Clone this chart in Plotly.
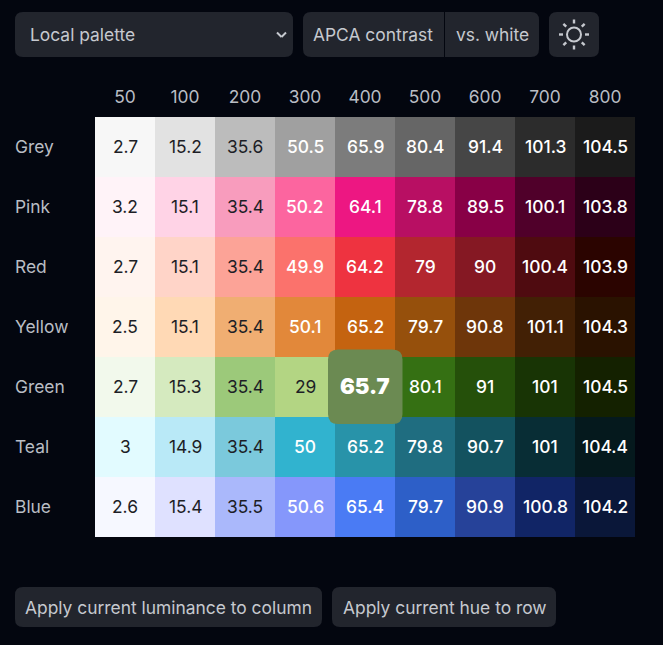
import math
import plotly.graph_objects as go

W, H = 663, 645

columns = ["50", "100", "200", "300", "400", "500", "600", "700", "800"]
hues = ["Grey", "Pink", "Red", "Yellow", "Green", "Teal", "Blue"]

# contrast values
grey = [2.7, 15.2, 35.6, 50.5, 65.9, 80.4, 91.4, 101.3, 104.5]
pink = [3.2, 15.1, 35.4, 50.2, 64.1, 78.8, 89.5, 100.1, 103.8]
red = [2.7, 15.1, 35.4, 49.9, 64.2, 79, 90, 100.4, 103.9]
yellow = [2.5, 15.1, 35.4, 50.1, 65.2, 79.7, 90.8, 101.1, 104.3]
green = [2.7, 15.3, 35.4, 29, 65.7, 80.1, 91, 101, 104.5]
teal = [3, 14.9, 35.4, 50, 65.2, 79.8, 90.7, 101, 104.4]
blue = [2.6, 15.4, 35.5, 50.6, 65.4, 79.7, 90.9, 100.8, 104.2]
values = [grey, pink, red, yellow, green, teal, blue]

grey_c = ["#f7f7f7", "#e2e2e2", "#bcbcbc", "#a0a0a0", "#7c7c7c", "#666666", "#464646", "#2c2c2c", "#1b1b1b"]
pink_c = ["#fff3f8", "#ffd3e6", "#f89cbd", "#fc659f", "#ed1782", "#b80f63", "#880046", "#50002a", "#2c0018"]
red_c = ["#fff4ef", "#ffd4c8", "#fca397", "#fb726c", "#ee3340", "#b3262f", "#851823", "#4f0b10", "#2b0400"]
yellow_c = ["#fff5ea", "#ffd9b5", "#f0ae72", "#e2883a", "#c46310", "#96500c", "#6e360a", "#422005", "#2a1200"]
green_c = ["#f2f9ec", "#d5eabf", "#9cc97a", "#b3d583", "#6b8a52", "#357013", "#25500a", "#183405", "#142100"]
teal_c = ["#e2fbff", "#b9e9f7", "#7bc9dc", "#31b3cf", "#2893a9", "#1f6d80", "#13525f", "#082d35", "#05191d"]
blue_c = ["#f6f8ff", "#dfe1ff", "#aab8fb", "#8597fb", "#4a7bf4", "#2d5fc8", "#264299", "#112566", "#0a1739"]
palette = [grey_c, pink_c, red_c, yellow_c, green_c, teal_c, blue_c]

BG = "#03060f"
PANEL = "#22252d"
LABEL = "#b9bdc4"
BTN_TEXT = "#c6c9cf"
DARK = "#1d1e26"
LIGHT = "#ffffff"
FONT = "Inter"
TEXT_SIZE = 17.4


def px_x(x):
    return x / W


def px_y(y):
    return 1 - y / H


def rounded(x0, y0, x1, y1, r=8):
    # rounded box, coordinates in window pixels
    xa, xb, ya, yb = px_x(x0), px_x(x1), px_y(y0), px_y(y1)
    rx, ry = r / W, r / H
    return (f"M {xa + rx} {ya} L {xb - rx} {ya} Q {xb} {ya} {xb} {ya - ry} "
            f"L {xb} {yb + ry} Q {xb} {yb} {xb - rx} {yb} "
            f"L {xa + rx} {yb} Q {xa} {yb} {xa} {yb + ry} "
            f"L {xa} {ya - ry} Q {xa} {ya} {xa + rx} {ya} Z")


def box(x0, y0, x1, y1, color, r=8):
    return dict(type="path", xref="paper", yref="paper", path=rounded(x0, y0, x1, y1, r),
                fillcolor=color, line_width=0, layer="above")


def stroke(x0, y0, x1, y1, color, width=2):
    return dict(type="line", xref="paper", yref="paper", x0=px_x(x0), y0=px_y(y0),
                x1=px_x(x1), y1=px_y(y1), line=dict(color=color, width=width), layer="above")


def label(x, y, text, color=BTN_TEXT, size=TEXT_SIZE):
    # annotations carry about 2px of padding, so pull them back to the real text edge
    return dict(x=px_x(x - 2), y=px_y(y), xref="paper", yref="paper", text=text, showarrow=False,
                xanchor="left", yanchor="middle", font=dict(family=FONT, size=size, color=color))


# one flat colour per cell, so the heatmap paints exactly the palette
flat = [c for row in palette for c in row]
n = len(flat)
scale = []
for i, c in enumerate(flat):
    scale += [[i / n, c], [(i + 1) / n, c]]
z = [[r * len(columns) + c + 0.5 for c in range(len(columns))] for r in range(len(hues))]

fig = go.Figure(go.Heatmap(z=z, x=list(range(len(columns))), y=list(range(len(hues))),
                           colorscale=scale, zmin=0, zmax=n, showscale=False, hoverinfo="skip"))

shapes = [
    box(15, 12, 293, 57, PANEL),
    box(303, 12, 539, 57, PANEL),
    box(549, 12, 599, 57, PANEL),
    box(15, 587, 322, 627, PANEL),
    box(332, 587, 556, 627, PANEL),
    stroke(444.5, 12, 444.5, 57, BG, 1),
    # select chevron
    stroke(277, 32.5, 281.5, 37, BTN_TEXT, 2),
    stroke(281.5, 37, 286, 32.5, BTN_TEXT, 2),
    # highlighted cell
    box(328, 349.5, 402.5, 424, "#6b8a52", 10),
]

# sun icon
sun_x, sun_y = 574, 34.5
shapes.append(dict(type="circle", xref="paper", yref="paper", x0=px_x(sun_x - 7), x1=px_x(sun_x + 7),
                   y0=px_y(sun_y - 7), y1=px_y(sun_y + 7), line=dict(color=BTN_TEXT, width=2), layer="above"))
for k in range(8):
    a = k * math.pi / 4
    shapes.append(stroke(sun_x + 11 * math.cos(a), sun_y + 11 * math.sin(a),
                         sun_x + 15 * math.cos(a), sun_y + 15 * math.sin(a), BTN_TEXT, 2.4))

notes = [
    label(30, 34.5, "Local palette"),
    label(313, 34.5, "APCA contrast"),
    label(456, 34.5, "vs. white"),
    label(25, 607.5, "Apply current luminance to column"),
    label(343, 607.5, "Apply current hue to row"),
]
for r, name in enumerate(hues):
    notes.append(label(15, 146 + r * 60, name, color=LABEL))

for r, row in enumerate(values):
    for c, v in enumerate(row):
        selected = hues[r] == "Green" and columns[c] == "400"
        light_text = c >= 3 and not (hues[r] == "Green" and columns[c] == "300")
        notes.append(dict(x=c, y=r, xref="x", yref="y", text=f"{v:g}", yshift=1,
                          showarrow=False, xanchor="center", yanchor="middle",
                          font=dict(family=FONT, size=22 if selected else TEXT_SIZE,
                                    weight=900 if selected else (450 if light_text else 400),
                                    color=LIGHT if light_text else DARK)))

fig.update_layout(
    width=W, height=H, margin=dict(l=0, r=0, t=0, b=0),
    paper_bgcolor=BG, plot_bgcolor=BG, showlegend=False,
    font=dict(family=FONT, size=TEXT_SIZE, color=LABEL),
    shapes=shapes, annotations=notes,
    xaxis=dict(domain=[px_x(95), px_x(635)], range=[-0.5, 8.5], side="top", tickmode="array",
               tickvals=list(range(len(columns))), ticktext=columns, showgrid=False, zeroline=False,
               ticks="", ticklabelstandoff=10, tickfont=dict(family=FONT, size=TEXT_SIZE, color=LABEL)),
    yaxis=dict(domain=[px_y(537), px_y(117)], range=[6.5, -0.5], showticklabels=False,
               showgrid=False, zeroline=False, ticks=""),
)

fig.write_html("out.html", config=dict(displayModeBar=False),
               post_script="document.body.style.margin='0';document.body.style.overflow='hidden';")
